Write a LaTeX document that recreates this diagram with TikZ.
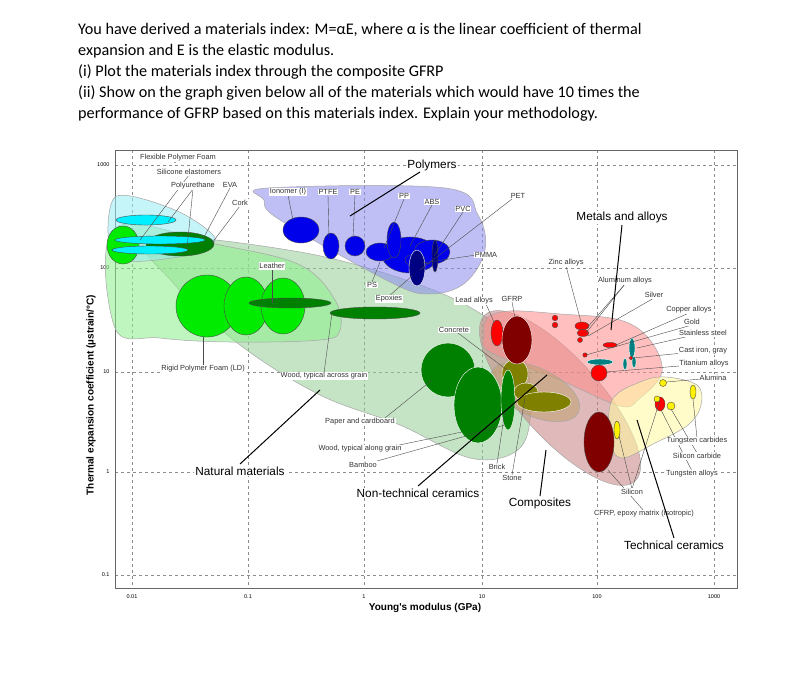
\documentclass[tikz,border=0pt]{standalone}
\usepackage{fontspec}
\setmainfont{Carlito}
\newfontfamily\tah{Liberation Sans}
\begin{document}
\begin{tikzpicture}[x=1pt,y=-1pt,
  lab/.style={font=\tah\fontsize{7.4}{8}\selectfont, inner sep=0.8pt, text=black!80, fill=white},
  wlab/.style={lab, fill=white},
  big/.style={font=\tah\fontsize{11.8}{13}\selectfont, inner sep=1pt, fill=white},
  lead/.style={draw=black!70, line width=0.4pt},
  cat/.style={draw=black, line width=1pt},
  grid/.style={draw=black!45, dashed, line width=0.4pt},
  env/.style={draw=black!35, line width=0.5pt, fill opacity=0.55},
  bub/.style={draw=black!70, line width=0.4pt},
  hdr/.style={font=\fontsize{16.2}{18}\selectfont, anchor=west, inner sep=0pt}]
\definecolor{cyanA}{RGB}{0,240,255}
\definecolor{cyanE}{RGB}{150,235,245}
\definecolor{limeA}{RGB}{0,235,0}
\definecolor{dgreen}{RGB}{0,128,0}
\definecolor{natE}{RGB}{150,205,150}
\definecolor{foamE}{RGB}{140,240,140}
\definecolor{polE}{RGB}{140,140,240}
\definecolor{blueA}{RGB}{0,0,235}
\definecolor{navy}{RGB}{0,0,130}
\definecolor{metE}{RGB}{255,140,140}
\definecolor{compE}{RGB}{200,130,130}
\definecolor{maroon}{RGB}{128,0,0}
\definecolor{cerE}{RGB}{255,250,160}
\definecolor{olive}{RGB}{128,128,0}
\definecolor{ntcE}{RGB}{190,160,110}
\definecolor{teal}{RGB}{0,128,128}
\useasboundingbox (0,0) rectangle (795,674);
\fill[white] (0,0) rectangle (795,674);
% header text
\node[hdr] (h1) at (78,30) {You have derived a materials index: M=αE, where α is the linear coefficient of thermal};
\node[hdr] (h2) at (78,51) {expansion and E is the elastic modulus.};
\node[hdr] (h3) at (78,72) {(i) Plot the materials index through the composite GFRP};
\node[hdr] (h4) at (78,93) {(ii) Show on the graph given below all of the materials which would have 10 times the};
\node[hdr] (h5) at (78,114) {performance of GFRP based on this materials index. Explain your methodology.};
% grid
\foreach \gx in {132,248,364,482,597,714} \draw[grid] (\gx,150) -- (\gx,588);
\foreach \gy in {165,268,372,472,575} \draw[grid] (115,\gy) -- (737,\gy);
\draw[black!60, line width=0.6pt] (115,150) rectangle (737,588);
% tick labels
\foreach \gx/\t in {132/0.01,248/0.1,364/1,482/10,597/100,714/1000}
  \node[font=\tah\fontsize{5.5}{6}\selectfont] (tx\t) at (\gx,597) {\t};
\foreach \gy/\t in {165/1000,268/100,372/10,472/1,575/0.1}
  \node[font=\tah\fontsize{5.5}{6}\selectfont, anchor=east] (ty\t) at (113,\gy) {\t};
\node[font=\tah\bfseries\fontsize{10}{12}\selectfont] (xl) at (425,608) {Young's modulus (GPa)};
\node[font=\tah\bfseries\fontsize{10}{12}\selectfont, rotate=90] (yl) at (91,395) {Thermal expansion coefficient (µstrain/°C)};
% envelopes
\fill[env, fill=natE] plot[smooth cycle, tension=0.6] coordinates {(150,238) (300,252) (420,285) (490,320) (525,360) (530,420) (515,452) (470,458) (400,425) (320,395) (240,345) (175,285)};
\fill[env, fill=foamE] plot[smooth cycle, tension=0.6] coordinates {(115,228) (220,245) (300,265) (335,300) (340,330) (320,340) (230,342) (160,338) (115,328)};
\fill[env, fill=cyanE] plot[smooth cycle, tension=0.5] coordinates {(115,197) (175,210) (215,238) (190,255) (115,258)};
\fill[env, fill=polE] plot[smooth cycle, tension=0.6] coordinates {(268,188) (445,188) (478,215) (485,250) (465,283) (430,294) (390,282) (280,220) (264,200)};
\fill[env, fill=compE, rotate around={-48:(560,398)}] (560,398) ellipse [x radius=112pt, y radius=40pt];
\fill[env, fill=metE] plot[smooth cycle, tension=0.6] coordinates {(487,318) (510,311) (560,314) (620,320) (650,340) (662,372) (640,398) (620,406) (560,380) (490,352) (484,335)};
\fill[env, fill=cerE] plot[smooth cycle, tension=0.6] coordinates {(612,400) (640,382) (665,377) (697,385) (701,405) (688,425) (655,443) (622,458) (610,440)};
\fill[env, fill=ntcE, rotate around={-25:(535,392)}] (535,392) ellipse [x radius=48pt, y radius=24pt];
% foams
\draw[bub, fill=limeA] (123,245) ellipse [x radius=16pt, y radius=19pt];
\draw[bub, fill=dgreen] (180,244) ellipse [x radius=34pt, y radius=12pt];
\draw[bub, fill=cyanA] (146,220) ellipse [x radius=30pt, y radius=5pt];
\draw[bub, fill=cyanA] (160,240) ellipse [x radius=45pt, y radius=4pt];
\draw[bub, fill=cyanA] (150,250) ellipse [x radius=38pt, y radius=4pt];
% natural
\draw[bub, fill=limeA] (207,306) circle [radius=31pt];
\draw[bub, fill=limeA] (246,306) ellipse [x radius=22pt, y radius=29pt];
\draw[bub, fill=limeA] (283,306) ellipse [x radius=22pt, y radius=28pt];
\draw[bub, fill=dgreen] (290,303) ellipse [x radius=41pt, y radius=5pt];
\draw[bub, fill=dgreen] (375,313) ellipse [x radius=45pt, y radius=6pt];
\draw[bub, draw=white, fill=dgreen] (448,370) circle [radius=27pt];
\draw[bub, draw=white, fill=dgreen] (478,405) ellipse [x radius=24pt, y radius=38pt];
\draw[bub, draw=white, fill=olive] (515,374) ellipse [x radius=13pt, y radius=15pt];
\draw[bub, draw=white, fill=dgreen] (508,400) ellipse [x radius=7pt, y radius=30pt];
\draw[bub, draw=white, fill=olive] (526,392) ellipse [x radius=12pt, y radius=9pt];
\draw[bub, draw=white, fill=olive] (544,402) ellipse [x radius=27pt, y radius=10pt];
% polymers
\draw[bub, fill=blueA] (301,230) ellipse [x radius=18pt, y radius=13pt];
\draw[bub, fill=blueA] (331,246) ellipse [x radius=8pt, y radius=13pt];
\draw[bub, fill=blueA] (355,246) ellipse [x radius=10pt, y radius=10pt];
\draw[bub, fill=blueA] (410,255) ellipse [x radius=28pt, y radius=18pt];
\draw[bub, fill=blueA] (380,252) ellipse [x radius=14pt, y radius=9pt];
\draw[bub, fill=blueA] (394,240) ellipse [x radius=7pt, y radius=18pt];
\draw[bub, fill=blueA] (432,252) ellipse [x radius=18pt, y radius=12pt];
\draw[bub, fill=blueA] (415,260) ellipse [x radius=10pt, y radius=6pt];
\draw[bub, draw=white, fill=navy] (417,268) ellipse [x radius=8pt, y radius=18pt];
\draw[bub, fill=navy] (435,256) ellipse [x radius=3pt, y radius=16pt];
% metals & composites
\draw[bub, fill=red] (497,333) ellipse [x radius=6pt, y radius=13pt];
\draw[bub, draw=white, fill=maroon] (517,340) ellipse [x radius=15pt, y radius=24pt];
\draw[bub, fill=maroon] (599,442) ellipse [x radius=15pt, y radius=30pt];
\draw[bub, fill=red] (582,326) ellipse [x radius=7pt, y radius=4pt];
\draw[bub, fill=red] (583,333) ellipse [x radius=6pt, y radius=3.5pt];
\draw[bub, fill=red] (555,318) circle [radius=2.8pt];
\draw[bub, fill=red] (555,325) circle [radius=2.8pt];
\draw[bub, fill=red] (580,340) circle [radius=2.5pt];
\draw[bub, fill=red] (610,345) ellipse [x radius=7pt, y radius=2.5pt];
\draw[bub, fill=red] (585,355) circle [radius=2.2pt];
\draw[bub, draw=white, fill=teal] (600,362) ellipse [x radius=13pt, y radius=3pt];
\draw[bub, draw=white, fill=teal] (632,348) ellipse [x radius=3pt, y radius=10pt];
\draw[bub, draw=white, fill=teal] (625,364) ellipse [x radius=2pt, y radius=6pt];
\draw[bub, draw=white, fill=teal] (634,362) ellipse [x radius=2pt, y radius=6pt];
\draw[bub, fill=red] (631,358) circle [radius=1.8pt];
\draw[bub, fill=red] (599,373) circle [radius=8pt];
% ceramics
\draw[bub, fill=yellow] (663,383) circle [radius=3.5pt];
\draw[bub, fill=yellow] (693,392) ellipse [x radius=3pt, y radius=7pt];
\draw[bub, fill=red] (660,404) ellipse [x radius=5pt, y radius=7pt];
\draw[bub, fill=yellow] (657,399) circle [radius=3pt];
\draw[bub, fill=yellow] (671,406) circle [radius=4pt];
\draw[bub, fill=yellow] (617,430) ellipse [x radius=3pt, y radius=9pt];
% leaders (drawn first, labels on top)
\coordinate (pff) at (174,163);
\draw[lead] (178,161) -- (pff);
\draw[lead] (189,175) -- (140,240);
\draw[lead] (193,189) -- (168,222);
\draw[lead] (193,189) -- (187,248);
\draw[lead] (230,188) -- (203,239);
\draw[lead] (240,206) -- (212,243);
\draw[lead] (288,195) -- (293,220);
\draw[lead] (328,195) -- (329,240);
\draw[lead] (355,195) -- (353,238);
\draw[lead] (404,199) -- (384,248);
\draw[lead] (432,205) -- (410,246);
\draw[lead] (463,212) -- (434,256);
\draw[lead] (512,199) -- (420,270);
\draw[lead] (476,255) -- (422,263);
\draw[lead] (272,269) -- (272,303);
\draw[lead] (372,282) -- (380,262);
\draw[lead] (389,296) -- (412,276);
\draw[lead] (203,366) -- (203,337);
\draw[lead] (324,373) -- (332,313);
\draw[lead] (380,422) -- (432,380);
\draw[lead] (380,449) -- (462,432);
\draw[lead] (363,465) -- (505,425);
\draw[lead] (486,304) -- (494,322);
\draw[lead] (512,302) -- (515,318);
\draw[lead] (454,330) -- (507,370);
\draw[lead] (497,464) -- (505,410);
\draw[lead] (512,475) -- (525,398);
\draw[lead] (566,266) -- (581,322);
\draw[lead] (625,284) -- (587,328);
\draw[lead] (625,284) -- (586,333);
\draw[lead] (654,298) -- (588,336);
\draw[lead] (689,313) -- (616,345);
\draw[lead] (692,325) -- (586,355);
\draw[lead] (703,333) -- (637,348);
\draw[lead] (703,351) -- (633,358);
\draw[lead] (704,364) -- (606,372);
\draw[lead] (713,378) -- (666,382);
\draw[lead] (697,438) -- (693,399);
\draw[lead] (697,453) -- (671,409);
\draw[lead] (692,471) -- (661,410);
\draw[lead] (632,489) -- (619,436);
\draw[lead] (632,489) -- (660,400);
\draw[lead] (644,511) -- (608,470);
% small labels
\node[lab] (lff) at (178,158) {Flexible Polymer Foam};
\node[lab] (lse) at (189,172) {Silicone elastomers};
\node[lab] (lpu) at (193,186) {Polyurethane};
\node[lab] (leva) at (230,185) {EVA};
\node[lab] (lcork) at (240,203) {Cork};
\node[lab] (lion) at (288,192) {Ionomer (I)};
\node[lab] (lptfe) at (328,192) {PTFE};
\node[lab] (lpe) at (355,192) {PE};
\node[lab] (lpp) at (404,196) {PP};
\node[lab] (labs) at (432,202) {ABS};
\node[lab] (lpvc) at (463,209) {PVC};
\node[lab] (lpet) at (518,196) {PET};
\node[lab] (lpmma) at (486,255) {PMMA};
\node[wlab] (lleath) at (272,266) {Leather};
\node[wlab] (lps) at (372,285) {PS};
\node[wlab] (lepo) at (389,299) {Epoxies};
\node[lab] (lrig) at (203,369) {Rigid Polymer Foam (LD)};
\node[wlab] (lwac) at (324,376) {Wood, typical across grain};
\node[wlab] (lpap) at (360,422) {Paper and cardboard};
\node[lab] (lwal) at (360,449) {Wood, typical along grain};
\node[lab] (lbam) at (363,465) {Bamboo};
\node[lab] (llead) at (474,301) {Lead alloys};
\node[lab] (lgfrp) at (512,299) {GFRP};
\node[wlab] (lconc) at (454,330) {Concrete};
\node[lab] (lzinc) at (566,263) {Zinc alloys};
\node[lab] (lal) at (625,281) {Aluminum alloys};
\node[lab] (lsil) at (654,295) {Silver};
\node[lab] (lcu) at (689,310) {Copper alloys};
\node[lab] (lau) at (692,322) {Gold};
\node[lab] (lss) at (703,333) {Stainless steel};
\node[lab] (lci) at (703,351) {Cast iron, gray};
\node[lab] (lti) at (704,364) {Titanium alloys};
\node[lab] (lalu) at (713,378) {Alumina};
\node[lab] (lwc) at (697,441) {Tungsten carbides};
\node[lab] (lsic) at (697,456) {Silicon carbide};
\node[lab] (lwa) at (692,474) {Tungsten alloys};
\node[lab] (lsi) at (632,492) {Silicon};
\node[lab] (lcfrp) at (644,514) {CFRP, epoxy matrix (isotropic)};
\node[lab] (lbrick) at (497,467) {Brick};
\node[lab] (lstone) at (512,478) {Stone};
% category labels
\draw[cat] (420,172) -- (350,216);
\draw[cat] (622,225) -- (611,330);
\draw[cat] (240,464) -- (320,390);
\draw[cat] (418,486) -- (547,375);
\draw[cat] (540,496) -- (546,450);
\draw[cat] (674,538) -- (637,420);
\node[big] (cpol) at (432,165) {Polymers};
\node[big] (cmet) at (622,217) {Metals and alloys};
\node[big] (cnat) at (240,471) {Natural materials};
\node[big] (cntc) at (418,493) {Non-technical ceramics};
\node[big] (ccomp) at (540,503) {Composites};
\node[big] (ctec) at (674,545) {Technical ceramics};
\end{tikzpicture}
\end{document}
